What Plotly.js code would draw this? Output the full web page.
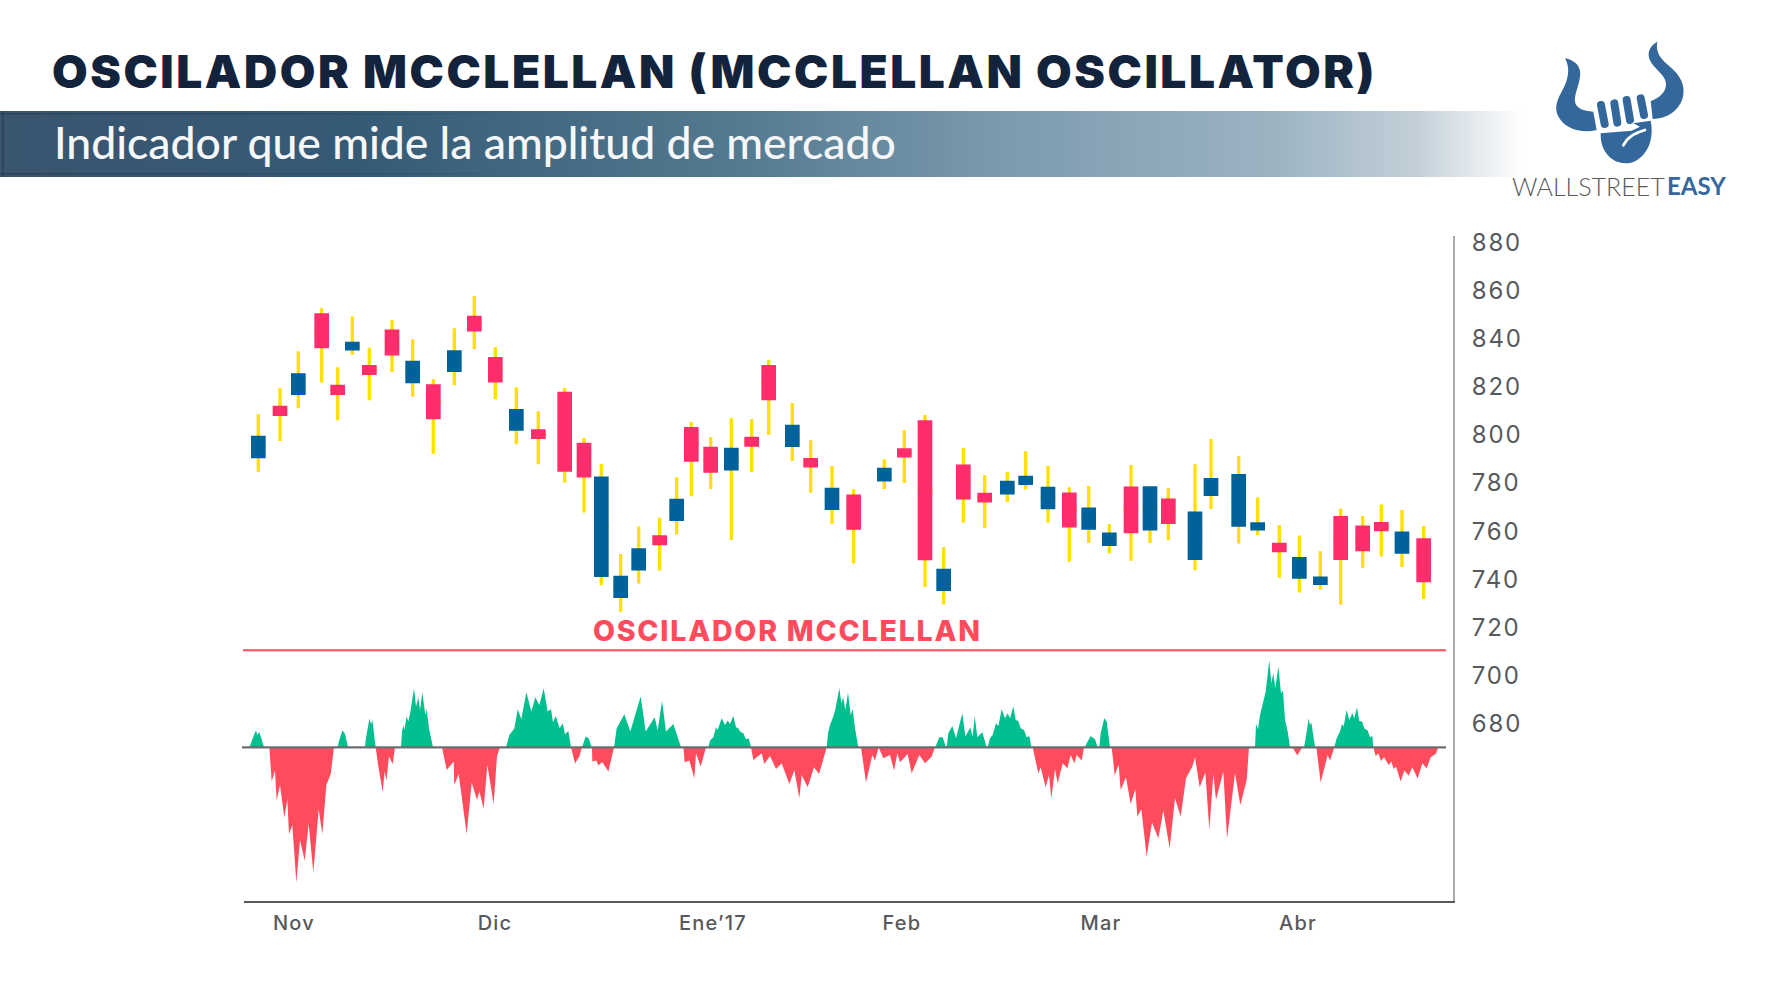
<!DOCTYPE html>
<html><head><meta charset="utf-8">
<script src="https://cdn.plot.ly/plotly-3.0.1.min.js"></script>
<style>html,body{margin:0;padding:0;background:#fff}#c{width:1771px;height:1000px}
.gtitle{letter-spacing:2.55px}
.xtick text{letter-spacing:1.2px}
.ytick text{letter-spacing:1.8px}
.annotation[data-index="1"] text{letter-spacing:1.8px}
</style>
</head><body><div id="c"></div>
<script>
// ---- data ----
const sessionDays=[2.15,5.4,8.15,11.65,14.05,16.25,18.8,22.2,25.3,28.4,31.55,34.55,37.7,40.85,44.15,48.1,51.0,53.6,56.5,59.2,62.35,64.9,67.1,70.0,73.1,76.15,78.7,82.25,85.0,88.2,91.45,96.05,99.05,102.15,104.95,107.9,111.1,114.5,117.25,120.6,123.8,126.7,129.8,133.05,135.9,138.65,142.65,145.05,149.2,152.05,155.3,158.3,161.45,164.5,167.8,170.6,173.7,176.95];
const opens=[790.3,812.1,816.6,850.6,820.8,835.1,829.1,843.8,821.5,821.1,826.2,849.5,832.4,801.7,802.3,817.9,796.7,740.9,732.2,743.6,758.3,764.2,803.3,795.1,785.2,799.2,829.1,795.0,790.4,768.8,775.2,780.6,794.5,806.1,735.1,787.7,775.9,775.2,779.2,769.1,776.0,760.6,753.8,778.5,760.2,773.6,748.0,774.6,761.8,760.2,755.2,740.2,737.6,766.3,762.3,763.8,750.6,757.0];
const closes=[799.6,807.9,825.6,836.0,816.6,838.7,824.9,833.0,830.8,806.5,835.2,843.0,821.8,810.8,798.3,784.7,782.3,782.7,741.4,752.9,754.1,773.4,788.8,784.3,794.7,795.1,814.4,804.2,786.4,778.0,760.6,786.3,790.6,747.9,744.3,773.1,771.9,780.9,783.0,778.4,761.5,769.8,759.4,759.1,778.6,763.0,768.2,782.1,783.7,763.7,751.2,749.2,741.1,748.0,751.6,759.9,759.8,738.7];
const highs=[808.6,819.4,834.8,852.7,828.1,849.2,836.2,847.8,839.8,823.1,844.3,857.8,836.4,819.8,809.8,819.5,798.7,787.9,750.5,761.9,765.6,782.4,805.4,799.0,806.9,806.5,831.2,813.2,797.8,787.1,777.4,789.9,801.9,808.3,753.3,794.6,783.2,784.6,793.2,787.2,778.2,778.8,763.0,787.5,778.6,777.8,787.8,798.3,791.2,774.0,762.5,758.2,751.6,769.3,766.3,771.1,768.8,762.1];
const lows=[784.7,797.5,811.1,821.8,806.1,833.3,814.4,826.2,815.9,792.2,820.6,835.6,814.8,796.1,787.8,780.2,767.7,737.5,726.5,738.2,743.6,758.6,774.5,777.5,756.3,784.6,800.1,789.3,775.9,763.1,746.5,777.5,780.0,736.8,729.5,763.5,761.3,772.1,777.3,763.5,747.3,755.1,750.7,747.7,755.1,756.2,743.7,769.2,754.8,758.4,740.6,734.5,735.7,729.4,744.8,749.4,745.1,731.8];

const oscDays=[0.8,1.0,1.65,1.8,2.0,2.3,2.5,3.0,
3.8,4.15,4.65,4.9,5.4,6.05,6.5,6.75,7.25,7.85,8.4,9.1,9.7,10.4,11.2,11.75,12.35,13.0,13.5,
14.05,14.3,14.75,15.15,15.6,
18.15,18.25,18.8,19.05,19.25,19.75,
20.15,20.8,21.1,21.35,21.75,22.3,22.65,
23.55,23.7,23.9,24.05,24.4,24.65,25.0,25.5,25.8,26.15,26.4,26.75,27.2,27.4,27.75,28.35,
29.7,30.4,31.45,31.55,32.2,33.4,34.15,34.95,35.3,35.95,36.5,37.45,37.95,38.4,
39.3,39.8,40.55,41.05,41.6,42.35,43.1,43.7,44.3,44.95,45.55,46.05,46.35,46.75,47.35,47.8,48.15,48.65,49.05,
49.65,50.3,50.7,51.25,51.7,52.15,
52.2,52.25,52.85,53.15,53.75,54.65,55.4,
55.5,55.9,57.05,57.95,59.5,60.25,61.6,62.05,62.7,63.3,64.4,65.55,
65.9,66.1,66.8,67.55,67.8,68.5,69.3,
69.65,69.9,70.4,70.8,71.05,71.65,72.15,72.55,72.9,73.4,73.8,74.15,74.4,74.9,75.3,75.7,76.05,
76.4,77.65,78.05,78.9,79.8,80.65,81.8,82.55,83.3,83.65,84.55,85.5,86.25,87.4,
87.6,87.9,88.4,88.7,89.3,89.6,89.9,90.2,90.6,91.0,91.3,91.65,92.15,
92.55,93.3,94.25,94.65,95.2,95.9,96.9,97.5,98.0,98.4,99.55,100.15,101.3,102.15,103.15,103.65,
103.7,104.3,104.8,105.3,105.45,105.65,106.25,106.8,107.75,108.2,108.95,109.3,109.6,110.0,110.75,111.4,
111.55,111.9,112.3,112.8,113.15,113.65,114.15,114.55,114.9,115.4,115.75,116.15,116.5,117.0,117.4,117.8,118.1,
118.3,119.15,119.5,120.25,120.75,121.1,121.65,122.05,122.8,123.5,124.0,124.55,124.9,125.65,126.0,
126.15,126.4,127.0,127.65,128.05,
128.3,128.5,129.05,129.4,129.9,
130.15,130.6,131.2,131.5,132.3,133.0,133.7,134.0,134.6,135.4,136.2,137.15,137.9,138.85,139.65,140.5,141.3,142.25,142.65,143.35,144.2,144.8,145.4,145.8,146.9,147.45,148.65,149.45,150.4,150.75,
151.65,151.8,152.1,152.4,152.65,152.9,153.25,153.8,154.1,154.4,154.7,155.15,155.55,155.85,156.15,156.55,156.9,
157.25,158.0,158.75,
159.0,159.25,159.7,159.9,160.1,160.65,
160.85,161.5,162.55,162.9,163.5,
163.55,163.9,164.4,164.7,164.95,165.4,165.8,166.25,166.55,166.95,167.3,167.7,168.05,168.55,168.9,169.25,169.4,
169.75,170.15,170.55,171.0,171.7,172.1,172.45,172.8,173.5,174.05,174.7,175.25,176.05,176.75,177.4,178.0,178.75,179.15];
const oscValues=[0,4,14.7,16.7,12.3,15.3,10.7,0,
0,-34.3,-23.3,-53.3,-37.7,-70.3,-51.7,-86.7,-77.7,-135.3,-92.7,-113.3,-76.7,-125.3,-62,-86.7,-37.7,-26.7,0,
0,7.3,16.7,13.3,0,
0,7.3,28.7,23.3,27.3,0,
-19.3,-44.3,-24.3,-33.3,-9.3,-16.7,0,
0,15.7,22.3,17.3,30.7,25.7,37.3,59,40.7,49.7,37.3,54.7,32.3,38,19,0,
0,-22.7,-14.3,-37.7,-26.7,-86.7,-35.3,-52.7,-44.3,-61.3,-17.7,-56.7,-8.7,0,
0,12.3,18.7,38,28.3,55,35.7,50,42.3,59,35.7,38,24.7,31.3,19,24,13,16.3,0,
-16.3,-9.3,0,10.7,9,0,
0,-14.3,-13.3,-18,-15,-24.3,0,
0,19,33,15.7,50.7,15.7,30,16.7,46.3,15.7,23.3,0,
0,-15,-13.3,-31,-6,-19.3,0,
0,6.7,10,20,17.3,29,22.3,26.7,23.3,31.3,20,19,15.7,14,8,9,0,
-12.7,-6,-16.7,-8.7,-21.7,-16,-36.7,-22.7,-51,-27.7,-40,-20,-26.7,0,
14,22.3,30.7,38,59,44,49.7,37.3,54.7,32.3,38,19,0,
0,-35.3,-7.7,-13.3,0,-11,-7.7,-23.3,-6,-15,-6.7,-26,-7.7,-16,-9.3,0,
0,10,10,0,2.3,14,21.3,9,34,10.7,19.7,10.7,31.3,10,15,0,
0,9,12.3,24,21.3,38,29,34,29,40.7,27.3,26.3,19,17.3,10,11.3,0,
0,-26,-20,-40,-27.7,-51,-21.7,-36,-16,-21,-7.7,-16,-7.7,-13.3,0,
0,4,11.3,8,0,
0,14,29,25.7,0,
0,-27.7,-17.7,-42.7,-30,-56.7,-42,-69.3,-61.7,-109.3,-75.3,-91.3,-63.3,-101,-51,-69.3,-31,-19.3,-10,-40,-25.3,-82.7,-26.7,-52.7,-24.3,-91.3,-26,-57.7,-32.7,0,
0,23.3,18,32.3,38,45.7,55.7,86.7,64,74,59,80.7,54,56.7,27.3,15.7,0,
0,-8,0,
0,9,29,22.3,24.7,0,
0,-35.3,-7.7,-13.3,0,
0,9,15.7,23.3,20.7,37.3,27.3,34,29,40,26.3,25.7,19,16.7,10,11.3,0,
-8.7,-6,-13.7,-10,-17.7,-14.3,-21.7,-19.3,-34.3,-23.3,-28.3,-20,-31.3,-16,-21,-10,-6.7,0];

const priceTicks=[680,700,720,740,760,780,800,820,840,860,880];
const monthDays=[7.5,37.65,70.35,98.7,128.55,158.1];
const monthLabels=['Nov','Dic','Ene’17','Feb','Mar','Abr'];

const titleText='OSCILADOR MCCLELLAN (MCCLELLAN OSCILLATOR)';
const subtitleText='Indicador que mide la amplitud de mercado';
const panelText='OSCILADOR MCCLELLAN';

// ---- page geometry helpers ----
const L=244,R=1453,T=236,B=901;
const xp=p=>(p-L)/(R-L), yp=p=>(B-p)/(B-T);

// ---- images (band gradient and logo) ----
const bandSvg=`<svg xmlns="http://www.w3.org/2000/svg" width="1771" height="66" viewBox="0 0 1771 66"><defs><linearGradient id="g" x1="0" x2="1" y1="0" y2="0"><stop offset="0" stop-color="#3a5570"/><stop offset="0.2" stop-color="#355a76"/><stop offset="0.41" stop-color="#52798f"/><stop offset="0.58" stop-color="#7f9db0"/><stop offset="0.72" stop-color="#9cb3c2"/><stop offset="0.8" stop-color="#c3d0d9"/><stop offset="0.86" stop-color="#fff"/></linearGradient><linearGradient id="f" x1="0" x2="1" y1="0" y2="0"><stop offset="0" stop-color="#2a3f58" stop-opacity="0.9"/><stop offset="0.18" stop-color="#2a3f58" stop-opacity="0.5"/><stop offset="0.3" stop-color="#2a3f58" stop-opacity="0"/></linearGradient></defs><rect width="1771" height="66" fill="url(#g)"/><rect y="2" width="1771" height="1.5" fill="url(#f)"/><rect y="62" width="1771" height="1.5" fill="url(#f)"/><rect x="2" y="0" width="1.5" height="66" fill="#2a3f58"/></svg>`;
const logoSvg=`<svg xmlns="http://www.w3.org/2000/svg" width="813" height="600" viewBox="0 0 813 600"><g fill="#34689c"><path d="M195 115C225 120 245 140 240 170C236 200 222 225 225 245C228 265 250 272 280 275L290 330C250 340 205 330 182 300C160 272 168 245 185 215C200 190 215 150 195 115Z"/><path d="M472 65C445 80 438 105 455 130C470 152 500 170 498 195C496 220 475 235 452 243L458 297C500 296 535 275 548 235C558 195 540 165 510 140C485 118 465 100 472 65Z"/><path d="M302 340L395 332L420 320L400 310L452 302C468 380 420 430 378 430C335 430 300 395 302 340Z"/></g><g stroke="#34689c" stroke-width="24" stroke-linecap="round" fill="none"><path d="M303 255L314 312"/><path d="M343 250L352 308"/><path d="M380 240L390 300"/><path d="M422 235L432 285"/></g><path d="M370 376C385 345 410 340 435 330" stroke="#fff" stroke-width="8" stroke-linecap="round" fill="none"/></svg>`;
const uri=s=>'data:image/svg+xml;charset=utf-8,'+encodeURIComponent(s);

// ---- traces ----
const mids=opens.map((o,i)=>(o+closes[i])/2);
const bodyTop=opens.map((o,i)=>Math.max(o,closes[i]));
const bodyBot=opens.map((o,i)=>Math.min(o,closes[i]));
const wick={type:'candlestick',x:sessionDays,open:mids,close:mids,high:highs,low:lows,
  increasing:{line:{color:'#FFE000',width:3.4},fillcolor:'#FFE000'},
  decreasing:{line:{color:'#FFE000',width:3.4},fillcolor:'#FFE000'},
  hoverinfo:'skip',showlegend:false};
const body={type:'candlestick',x:sessionDays,open:opens,close:closes,high:bodyTop,low:bodyBot,
  increasing:{line:{color:'#00629B',width:0},fillcolor:'#00629B'},
  decreasing:{line:{color:'#FF2D6B',width:0},fillcolor:'#FF2D6B'},
  hoverinfo:'skip',showlegend:false};
const oscPos={type:'scatter',mode:'lines',x:oscDays,y:oscValues.map(v=>v>0?v:0),yaxis:'y2',
  fill:'tozeroy',fillcolor:'#00BF8F',line:{width:0,color:'#00BF8F'},hoverinfo:'skip',showlegend:false};
const oscNeg={type:'scatter',mode:'lines',x:oscDays,y:oscValues.map(v=>v<0?v:0),yaxis:'y2',
  fill:'tozeroy',fillcolor:'#FF4B5C',line:{width:0,color:'#FF4B5C'},hoverinfo:'skip',showlegend:false};

const layout={
  width:1771,height:1000,paper_bgcolor:'#fff',plot_bgcolor:'rgba(0,0,0,0)',
  margin:{l:L,r:1771-R,t:T,b:1000-B,pad:0},showlegend:false,dragmode:false,
  boxmode:'overlay',boxgap:0,boxgroupgap:0,
  title:{text:titleText,xref:'container',yref:'container',x:52/1771,xanchor:'left',y:1-71.5/1000,yanchor:'middle',
    font:{family:'Inter, sans-serif',size:46,weight:900,color:'#14233C'}},
  xaxis:{type:'linear',range:[0,181.35],rangeslider:{visible:false},tickmode:'array',tickvals:monthDays,ticktext:monthLabels,
    showgrid:false,zeroline:false,showline:true,linecolor:'#58595B',linewidth:1.5,ticks:'',ticklabelstandoff:3,
    tickfont:{family:'Inter, sans-serif',size:20,weight:500,color:'#58595B'},fixedrange:true},
  yaxis:{range:[606.2,882.7],side:'right',tickmode:'array',tickvals:priceTicks,ticktext:priceTicks.map(String),
    showgrid:false,zeroline:false,showline:true,linecolor:'#A7A9AC',linewidth:2,ticks:'',ticklabelstandoff:12,
    tickfont:{family:'Inter, sans-serif',size:24,color:'#58595B'},fixedrange:true},
  yaxis2:{range:[-153.7,511.3],overlaying:'y',side:'left',visible:false,fixedrange:true},
  shapes:[
    {type:'line',xref:'paper',yref:'paper',x0:xp(243),x1:xp(1446),y0:yp(650.3),y1:yp(650.3),line:{color:'#FF4B5C',width:2}},
    {type:'line',xref:'paper',yref:'y2',x0:xp(242),x1:xp(1446),y0:0,y1:0,line:{color:'#6D6E71',width:2.2}}
  ],
  images:[
    {source:uri(bandSvg),xref:'paper',yref:'paper',x:xp(0),y:yp(111),sizex:1771/(R-L),sizey:66/(B-T),sizing:'stretch',xanchor:'left',yanchor:'top',layer:'below'},
    {source:uri(logoSvg),xref:'paper',yref:'paper',x:xp(1500),y:yp(20),sizex:271/(R-L),sizey:200/(B-T),sizing:'stretch',xanchor:'left',yanchor:'top',layer:'above'}
  ],
  annotations:[
    {text:subtitleText,xref:'paper',yref:'paper',x:xp(52),y:yp(141.5),xanchor:'left',yanchor:'middle',showarrow:false,
      font:{family:'Lato, sans-serif',size:44.5,weight:500,color:'#F5F7FA'}},
    {text:panelText,xref:'paper',yref:'paper',x:xp(787),y:yp(630.5),xanchor:'center',yanchor:'middle',showarrow:false,
      font:{family:'Inter, sans-serif',size:28.5,weight:800,color:'#FF4B5C'}},
    {text:'WALLSTREET',xref:'paper',yref:'paper',x:xp(1667),y:yp(186),xanchor:'right',yanchor:'middle',showarrow:false,
      font:{family:'Lato, sans-serif',size:25,weight:300,color:'#58595B'}},
    {text:'EASY',xref:'paper',yref:'paper',x:xp(1665),y:yp(186),xanchor:'left',yanchor:'middle',showarrow:false,
      font:{family:'Lato, sans-serif',size:24,weight:700,color:'#34689C'}}
  ]
};
Plotly.newPlot('c',[wick,body,oscPos,oscNeg],layout,{displayModeBar:false,responsive:false});
</script></body></html>
